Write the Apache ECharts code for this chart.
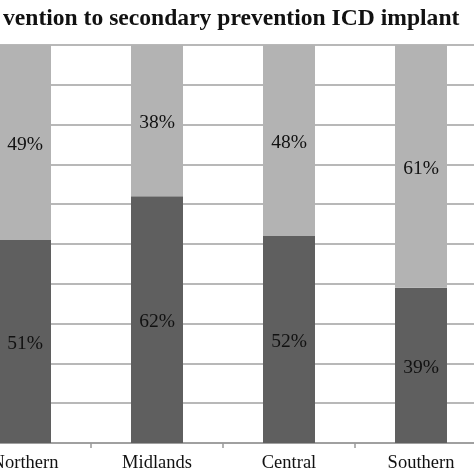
<!DOCTYPE html>
<html lang="en">

<head>
    <meta http-equiv="Content-Type" content="text/html;charset=UTF-8">
    <title>ICD implants</title>
    <script src="https://cdn.jsdelivr.net/npm/echarts@6/dist/echarts.min.js"></script>
    <style type="text/css">
        body {
            margin: 0;
            overflow: hidden;
            background: #fff;
        }

        /* the reference is cropped on both sides, so the chart is wider
           than the window and shifted left */
        #main {
            height: 474px;
            width: 528px;
            margin-left: -41px;
        }
    </style>
</head>

<body>
    <div id="main"></div>
</body>
<script>
    var categories = ['Northern', 'Midlands', 'Central', 'Southern'];
    var primary = [51, 62, 52, 39];   // dark, bottom
    var secondary = [49, 38, 48, 61]; // light, top

    var serif = '"Liberation Serif", "DejaVu Serif", serif';

    var option = {
        backgroundColor: '#fff',
        animation: false,
        title: {
            text: 'vention to secondary prevention ICD implant',
            left: 39,
            top: 2,
            textStyle: {
                fontFamily: serif,
                fontWeight: 'bold',
                fontSize: 23.6,
                color: '#111'
            }
        },
        grid: {
            left: 0,
            right: 0,
            top: 45,
            bottom: 31
        },
        xAxis: {
            type: 'category',
            data: categories,
            axisLine: {
                lineStyle: { color: '#999', width: 1.5 }
            },
            axisTick: {
                show: true,
                length: 5,
                lineStyle: { color: '#999', width: 1.5 }
            },
            axisLabel: {
                margin: 11,
                fontFamily: serif,
                fontSize: 18.5,
                color: '#111'
            }
        },
        yAxis: {
            type: 'value',
            min: 0,
            max: 100,
            interval: 10,
            axisLabel: { show: false },
            axisLine: { show: false },
            axisTick: { show: false },
            splitLine: {
                lineStyle: { color: '#a0a0a0', width: 1.5 }
            }
        },
        series: [{
            name: 'Primary',
            type: 'bar',
            stack: 'total',
            barWidth: 52,
            data: primary,
            itemStyle: { color: '#5f5f5f' },
            label: {
                show: true,
                position: 'inside',
                offset: [0, 2],
                formatter: '{c}%',
                fontFamily: serif,
                fontSize: 19.5,
                color: '#111'
            }
        }, {
            name: 'Secondary',
            type: 'bar',
            stack: 'total',
            barWidth: 52,
            data: secondary,
            itemStyle: { color: '#b3b3b3' },
            label: {
                show: true,
                position: 'inside',
                offset: [0, 2],
                formatter: '{c}%',
                fontFamily: serif,
                fontSize: 19.5,
                color: '#111'
            }
        }]
    };

    var myChart = echarts.init(document.getElementById('main'));
    myChart.setOption(option);
</script>

</html>
